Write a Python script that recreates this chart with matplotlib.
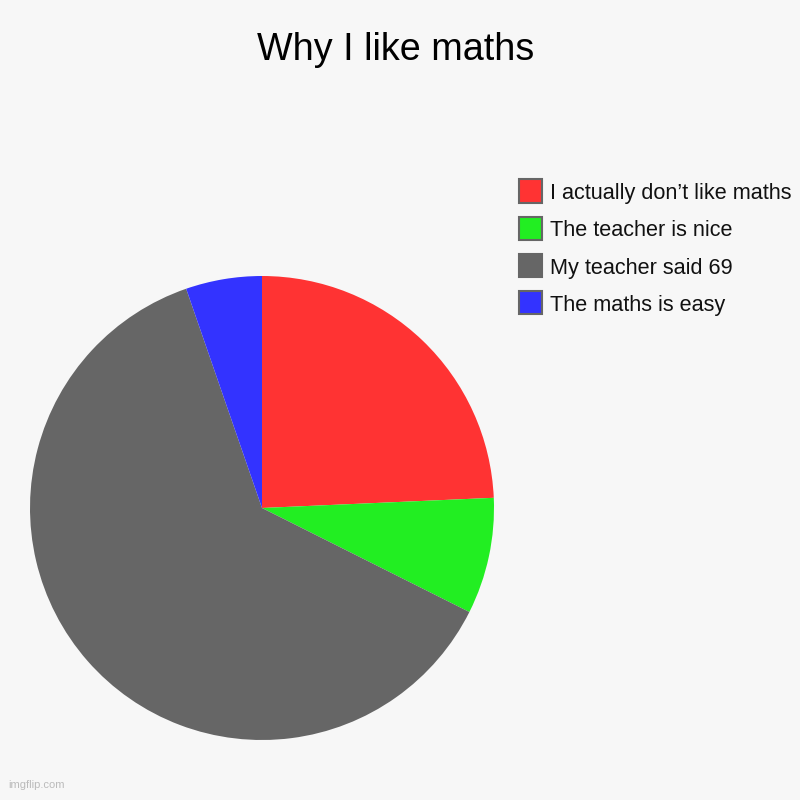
import matplotlib.pyplot as plt
from matplotlib.patches import Rectangle

plt.rcParams['font.family'] = ['Liberation Sans', 'DejaVu Sans']

labels = ["I actually don\u2019t like maths", "The teacher is nice",
          "My teacher said 69", "The maths is easy"]
values = [24.3, 8.1, 62.3, 5.3]
colors = ["#ff3333", "#22ee22", "#666666", "#3333ff"]

BG = "#f7f7f7"

fig = plt.figure(figsize=(8, 8), dpi=100, facecolor=BG)
ax = fig.add_axes([0.0375, 0.075, 0.58, 0.58])
ax.set_facecolor(BG)
ax.pie(values, colors=colors, startangle=90, counterclock=False,
       wedgeprops=dict(linewidth=0))
ax.set_xlim(-1, 1)
ax.set_ylim(-1, 1)
ax.set_aspect('equal')
ax.axis('off')

fig.text(0.494, 0.938, "Why I like maths", ha='center', va='center',
         fontsize=27.2, color='black')

# legend, drawn by hand to match spacing
y0 = 1 - 191 / 800
step = 37.3 / 800
for i, (lab, col) in enumerate(zip(labels, colors)):
    y = y0 - i * step
    fig.patches.append(Rectangle((519 / 800, y - 11.5 / 800), 23 / 800, 23 / 800,
                                 transform=fig.transFigure, facecolor=col,
                                 edgecolor='#666666', linewidth=1.5))
    fig.text(550 / 800, y, lab, ha='left', va='center_baseline',
             fontsize=15.6, color='#111111')

fig.text(0.01, 0.012, "imgflip.com", ha='left', va='bottom',
         fontsize=8, color='#bbbbbb')

fig.savefig("out.png", dpi=100, facecolor=BG)
